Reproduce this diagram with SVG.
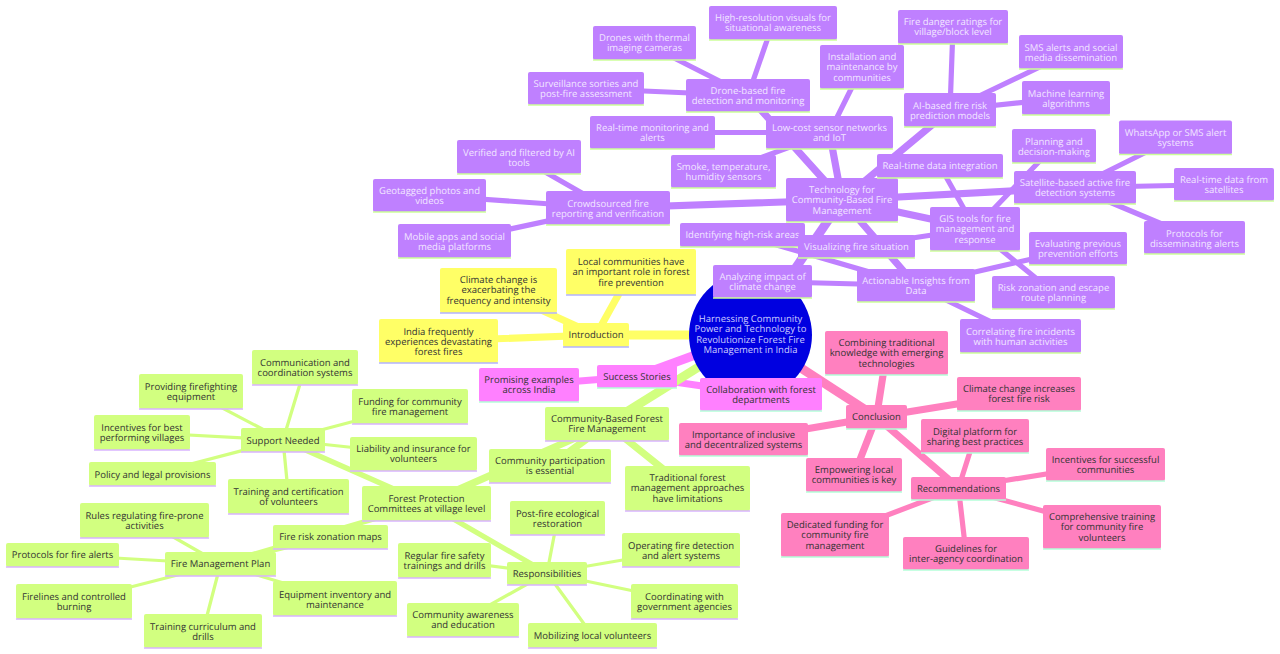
<svg xmlns="http://www.w3.org/2000/svg" width="1280" height="654" viewBox="0 0 1280 654">
<style>
text{font-family:"Open Sans","Noto Sans",sans-serif;font-size:9.5px;text-anchor:middle;text-rendering:geometricPrecision;transform:translateY(-0.5px)}
rect{stroke:none}
.sep{stroke-width:1.3;fill:none}
.e{fill:none;stroke-linecap:butt}
.d1{stroke-width:9.1}.d2{stroke-width:7.15}.d3{stroke-width:5.2}.d4{stroke-width:3.25}
.ep{stroke:#bf80ff}.ey{stroke:#ffff66}.em{stroke:#ff80ff}.er{stroke:#ff80bf}.eg{stroke:#d2ff80}
.p rect{fill:#bf80ff}.p text{fill:#f2e6ff}.p .sep{stroke:#ccff99}
.y rect{fill:#ffff66}.y text{fill:#333}.y .sep{stroke:#b3b3ff}
.m rect{fill:#ff80ff}.m text{fill:#333}.m .sep{stroke:#b3ffd9}
.r rect{fill:#ff80bf}.r text{fill:#333}.r .sep{stroke:#b3ffd9}
.g rect{fill:#d2ff80}.g text{fill:#333}.g .sep{stroke:#d9b3ff}
#root ellipse{fill:#0000e0}#root text{fill:#ccccff}
</style>
<g id="connectors">
<g class="e ep">
<path class="d1" d="M750 335L842 200"/>
<path class="d2" d="M842 200L748 95.5M842 200L829.5 132.5M842 200L950 110M842 200L608 208M842 200L1075 187.5M842 200L975 228.5M842 200L916 285.5"/>
<path class="d3" d="M748 95.5L773 23M748 95.5L644.5 43M748 95.5L586 88.5M829.5 132.5L862 67M829.5 132.5L652.5 132.5M829.5 132.5L723.5 171.5M950 110L953 27M950 110L1071 52M950 110L1066 98M608 208L519 157M608 208L429.5 195.5M608 208L454.5 241M1075 187.5L1175.5 137.5M1075 187.5L1224 184.5M1075 187.5L1194 237.5M975 228.5L940 166M975 228.5L1054 146M975 228.5L856.5 246.5M975 228.5L1053.5 292.5M916 285.5L742.5 235M916 285.5L762.5 281.5M916 285.5L1078 248.5M916 285.5L1020.5 336"/>
</g>
<g class="e ey">
<path class="d1" d="M750 335L596 335"/>
<path class="d2" d="M596 335L631 272M596 335L498.5 290.5M596 335L438.5 341"/>
</g>
<g class="e em">
<path class="d1" d="M750 335L636.5 376.5"/>
<path class="d2" d="M636.5 376.5L529 385M636.5 376.5L761 394.5"/>
</g>
<g class="e er">
<path class="d1" d="M750 335L876.5 417"/>
<path class="d2" d="M876.5 417L886.5 353M876.5 417L1019 394M876.5 417L743.5 439.5M876.5 417L854 475M876.5 417L958.5 488"/>
<path class="d3" d="M958.5 488L975 436M958.5 488L1105.5 464.5M958.5 488L1102 527M958.5 488L966 553.5M958.5 488L835 535"/>
</g>
<g class="e eg">
<path class="d1" d="M750 335L607 424"/>
<path class="d2" d="M607 424L550 466M607 424L687.5 488.5M607 424L426.5 503.5"/>
<path class="d3" d="M426.5 503.5L283 440M426.5 503.5L220.5 564M426.5 503.5L547 573"/>
<path class="d4" d="M283 440L305 367.5M283 440L191 391.5M283 440L142 432.5M283 440L152.5 474M283 440L288.5 496.5M283 440L410 406.5M283 440L413.5 454M220.5 564L330.5 537M220.5 564L144.5 520.5M220.5 564L62.5 555M220.5 564L74 601.5M220.5 564L203 631M220.5 564L335 598.5M547 573L557.5 518M547 573L444.5 560M547 573L681 550M547 573L684.5 601.5M547 573L592.5 635.5M547 573L463 620"/>
</g>
</g>
<g id="root"><ellipse cx="750.5" cy="335" rx="61.5" ry="63"/><text x="750.5" y="322.5">Harnessing Community<tspan x="750.5" dy="10.4">Power and Technology to</tspan><tspan x="750.5" dy="10.4">Revolutionize Forest Fire</tspan><tspan x="750.5" dy="10.4">Management in India</tspan></text></g>
<g id="n-high" class="p"><rect x="709" y="6" width="128" height="34" rx="2"/><path class="sep" d="M709 40h128"/><text x="773" y="21.5">High-resolution visuals for<tspan x="773" dy="10.4">situational awareness</tspan></text></g>
<g id="n-thermal" class="p"><rect x="593" y="26" width="103" height="34" rx="2"/><path class="sep" d="M593 60h103"/><text x="644.5" y="41.5">Drones with thermal<tspan x="644.5" dy="10.4">imaging cameras</tspan></text></g>
<g id="n-surv" class="p"><rect x="528" y="72" width="116" height="33" rx="2"/><path class="sep" d="M528 105h116"/><text x="586" y="87.5">Surveillance sorties and<tspan x="586" dy="10.4">post-fire assessment</tspan></text></g>
<g id="n-drone" class="p"><rect x="686" y="79" width="124" height="33" rx="2"/><path class="sep" d="M686 112h124"/><text x="748" y="94.5">Drone-based fire<tspan x="748" dy="10.4">detection and monitoring</tspan></text></g>
<g id="n-install" class="p"><rect x="820" y="45" width="84" height="44" rx="2"/><path class="sep" d="M820 89h84"/><text x="862" y="60.5">Installation and<tspan x="862" dy="10.4">maintenance by</tspan><tspan x="862" dy="10.4">communities</tspan></text></g>
<g id="n-rtm" class="p"><rect x="590" y="116" width="125" height="33" rx="2"/><path class="sep" d="M590 149h125"/><text x="652.5" y="131.5">Real-time monitoring and<tspan x="652.5" dy="10.4">alerts</tspan></text></g>
<g id="n-low" class="p"><rect x="766" y="116" width="127" height="33" rx="2"/><path class="sep" d="M766 149h127"/><text x="829.5" y="131.5">Low-cost sensor networks<tspan x="829.5" dy="10.4">and IoT</tspan></text></g>
<g id="n-smoke" class="p"><rect x="671" y="155" width="105" height="33" rx="2"/><path class="sep" d="M671 188h105"/><text x="723.5" y="170.5">Smoke, temperature,<tspan x="723.5" dy="10.4">humidity sensors</tspan></text></g>
<g id="n-danger" class="p"><rect x="898" y="10" width="110" height="34" rx="2"/><path class="sep" d="M898 44h110"/><text x="953" y="25.5">Fire danger ratings for<tspan x="953" dy="10.4">village/block level</tspan></text></g>
<g id="n-sms" class="p"><rect x="1019" y="35" width="104" height="34" rx="2"/><path class="sep" d="M1019 69h104"/><text x="1071" y="51">SMS alerts and social<tspan x="1071" dy="10.4">media dissemination</tspan></text></g>
<g id="n-ai" class="p"><rect x="904" y="93" width="92" height="34" rx="2"/><path class="sep" d="M904 127h92"/><text x="950" y="109">AI-based fire risk<tspan x="950" dy="10.4">prediction models</tspan></text></g>
<g id="n-ml" class="p"><rect x="1022" y="81" width="88" height="34" rx="2"/><path class="sep" d="M1022 115h88"/><text x="1066" y="97">Machine learning<tspan x="1066" dy="10.4">algorithms</tspan></text></g>
<g id="n-verified" class="p"><rect x="457" y="140" width="124" height="34" rx="2"/><path class="sep" d="M457 174h124"/><text x="519" y="156">Verified and filtered by AI<tspan x="519" dy="10.4">tools</tspan></text></g>
<g id="n-geo" class="p"><rect x="373" y="179" width="113" height="33" rx="2"/><path class="sep" d="M373 212h113"/><text x="429.5" y="194.5">Geotagged photos and<tspan x="429.5" dy="10.4">videos</tspan></text></g>
<g id="n-crowd" class="p"><rect x="546" y="191" width="124" height="34" rx="2"/><path class="sep" d="M546 225h124"/><text x="608" y="207">Crowdsourced fire<tspan x="608" dy="10.4">reporting and verification</tspan></text></g>
<g id="n-mobile" class="p"><rect x="398" y="224" width="113" height="34" rx="2"/><path class="sep" d="M398 258h113"/><text x="454.5" y="240">Mobile apps and social<tspan x="454.5" dy="10.4">media platforms</tspan></text></g>
<g id="n-tech" class="p"><rect x="786" y="178" width="112" height="44" rx="2"/><path class="sep" d="M786 222h112"/><text x="842" y="193.5">Technology for<tspan x="842" dy="10.4">Community-Based Fire</tspan><tspan x="842" dy="10.4">Management</tspan></text></g>
<g id="n-rti" class="p"><rect x="877" y="154" width="126" height="24" rx="2"/><path class="sep" d="M877 178h126"/><text x="940" y="169.5">Real-time data integration</text></g>
<g id="n-plan" class="p"><rect x="1012" y="129" width="84" height="34" rx="2"/><path class="sep" d="M1012 163h84"/><text x="1054" y="145">Planning and<tspan x="1054" dy="10.4">decision-making</tspan></text></g>
<g id="n-sat" class="p"><rect x="1014" y="171" width="122" height="33" rx="2"/><path class="sep" d="M1014 204h122"/><text x="1075" y="186.5">Satellite-based active fire<tspan x="1075" dy="10.4">detection systems</tspan></text></g>
<g id="n-whats" class="p"><rect x="1119" y="120.500" width="113" height="34" rx="2"/><path class="sep" d="M1119 154.500h113"/><text x="1175.5" y="136.5">WhatsApp or SMS alert<tspan x="1175.5" dy="10.4">systems</tspan></text></g>
<g id="n-rts" class="p"><rect x="1174" y="168" width="100" height="33" rx="2"/><path class="sep" d="M1174 201h100"/><text x="1224" y="183.5">Real-time data from<tspan x="1224" dy="10.4">satellites</tspan></text></g>
<g id="n-pd" class="p"><rect x="1144" y="221" width="101" height="33" rx="2"/><path class="sep" d="M1144 254h101"/><text x="1194.500" y="237">Protocols for<tspan x="1194.500" dy="10.4">disseminating alerts</tspan></text></g>
<g id="n-id" class="p"><rect x="680" y="223" width="125" height="24" rx="2"/><path class="sep" d="M680 247h125"/><text x="742.5" y="238.5">Identifying high-risk areas</text></g>
<g id="n-vis" class="p"><rect x="798" y="235" width="117" height="23" rx="2"/><path class="sep" d="M798 258h117"/><text x="856.5" y="250.5">Visualizing fire situation</text></g>
<g id="n-gis" class="p"><rect x="930" y="207" width="90" height="44" rx="2"/><path class="sep" d="M930 251h90"/><text x="975" y="222.5">GIS tools for fire<tspan x="975" dy="10.4">management and</tspan><tspan x="975" dy="10.4">response</tspan></text></g>
<g id="n-eval" class="p"><rect x="1029" y="232" width="98" height="33" rx="2"/><path class="sep" d="M1029 265h98"/><text x="1078" y="247.5">Evaluating previous<tspan x="1078" dy="10.4">prevention efforts</tspan></text></g>
<g id="n-ana" class="p"><rect x="713" y="265" width="99" height="33" rx="2"/><path class="sep" d="M713 298h99"/><text x="762.5" y="280.5">Analyzing impact of<tspan x="762.5" dy="10.4">climate change</tspan></text></g>
<g id="n-act" class="p"><rect x="857" y="269" width="118" height="33" rx="2"/><path class="sep" d="M857 302h118"/><text x="916" y="284.5">Actionable Insights from<tspan x="916" dy="10.4">Data</tspan></text></g>
<g id="n-risk" class="p"><rect x="992" y="276" width="123" height="33" rx="2"/><path class="sep" d="M992 309h123"/><text x="1053.5" y="291.5">Risk zonation and escape<tspan x="1053.5" dy="10.4">route planning</tspan></text></g>
<g id="n-corr" class="p"><rect x="960" y="319" width="121" height="34" rx="2"/><path class="sep" d="M960 353h121"/><text x="1020.5" y="335">Correlating fire incidents<tspan x="1020.5" dy="10.4">with human activities</tspan></text></g>
<g id="n-local" class="y"><rect x="566" y="249" width="130" height="46" rx="2"/><path class="sep" d="M566 295h130"/><text x="631" y="265.5">Local communities have<tspan x="631" dy="10.4">an important role in forest</tspan><tspan x="631" dy="10.4">fire prevention</tspan></text></g>
<g id="n-climate" class="y"><rect x="440" y="268" width="117" height="45" rx="2"/><path class="sep" d="M440 313h117"/><text x="498.5" y="283.5">Climate change is<tspan x="498.5" dy="10.4">exacerbating the</tspan><tspan x="498.5" dy="10.4">frequency and intensity</tspan></text></g>
<g id="n-india" class="y"><rect x="379" y="319" width="119" height="44" rx="2"/><path class="sep" d="M379 363h119"/><text x="438.5" y="335">India frequently<tspan x="438.5" dy="10.4">experiences devastating</tspan><tspan x="438.5" dy="10.4">forest fires</tspan></text></g>
<g id="n-intro" class="y"><rect x="563" y="323" width="66" height="24" rx="2"/><path class="sep" d="M563 347h66"/><text x="596" y="338.5">Introduction</text></g>
<g id="n-succ" class="m"><rect x="597" y="365" width="80" height="23" rx="2"/><path class="sep" d="M597 388h80"/><text x="637" y="380.5">Success Stories</text></g>
<g id="n-prom" class="m"><rect x="479" y="368" width="100" height="34" rx="2"/><path class="sep" d="M479 402h100"/><text x="529" y="383.5">Promising examples<tspan x="529" dy="10.4">across India</tspan></text></g>
<g id="n-collab" class="m"><rect x="700" y="378" width="122" height="33" rx="2"/><path class="sep" d="M700 411h122"/><text x="761" y="393">Collaboration with forest<tspan x="761" dy="10.4">departments</tspan></text></g>
<g id="n-combine" class="r"><rect x="825" y="331" width="123" height="44" rx="2"/><path class="sep" d="M825 375h123"/><text x="886.5" y="346.5">Combining traditional<tspan x="886.5" dy="10.4">knowledge with emerging</tspan><tspan x="886.5" dy="10.4">technologies</tspan></text></g>
<g id="n-concl" class="r"><rect x="846" y="405" width="61" height="24" rx="2"/><path class="sep" d="M846 429h61"/><text x="876.5" y="420.5">Conclusion</text></g>
<g id="n-clim2" class="r"><rect x="957" y="377" width="124" height="34" rx="2"/><path class="sep" d="M957 411h124"/><text x="1019" y="392.500">Climate change increases<tspan x="1019" dy="10.4">forest fire risk</tspan></text></g>
<g id="n-import" class="r"><rect x="679" y="423" width="129" height="33" rx="2"/><path class="sep" d="M679 456h129"/><text x="743.5" y="438.5">Importance of inclusive<tspan x="743.5" dy="10.4">and decentralized systems</tspan></text></g>
<g id="n-empower" class="r"><rect x="806" y="458" width="96" height="34" rx="2"/><path class="sep" d="M806 492h96"/><text x="854" y="473.5">Empowering local<tspan x="854" dy="10.4">communities is key</tspan></text></g>
<g id="n-digital" class="r"><rect x="921" y="419" width="108" height="34" rx="2"/><path class="sep" d="M921 453h108"/><text x="975" y="435">Digital platform for<tspan x="975" dy="10.4">sharing best practices</tspan></text></g>
<g id="n-rec" class="r"><rect x="911" y="477" width="95" height="23" rx="2"/><path class="sep" d="M911 500h95"/><text x="958.5" y="492.5">Recommendations</text></g>
<g id="n-inc" class="r"><rect x="1046" y="448" width="119" height="33" rx="2"/><path class="sep" d="M1046 481h119"/><text x="1105.5" y="463">Incentives for successful<tspan x="1105.5" dy="10.4">communities</tspan></text></g>
<g id="n-comp" class="r"><rect x="1043" y="505" width="118" height="44" rx="2"/><path class="sep" d="M1043 549h118"/><text x="1102" y="520.5">Comprehensive training<tspan x="1102" dy="10.4">for community fire</tspan><tspan x="1102" dy="10.4">volunteers</tspan></text></g>
<g id="n-guide" class="r"><rect x="903" y="537" width="126" height="33" rx="2"/><path class="sep" d="M903 570h126"/><text x="966" y="552.5">Guidelines for<tspan x="966" dy="10.4">inter-agency coordination</tspan></text></g>
<g id="n-fund" class="r"><rect x="781" y="513" width="108" height="44" rx="2"/><path class="sep" d="M781 557h108"/><text x="835" y="528.5">Dedicated funding for<tspan x="835" dy="10.4">community fire</tspan><tspan x="835" dy="10.4">management</tspan></text></g>
<g id="n-cb" class="g"><rect x="545" y="407" width="124" height="34" rx="2"/><path class="sep" d="M545 441h124"/><text x="607" y="422.5">Community-Based Forest<tspan x="607" dy="10.4">Fire Management</tspan></text></g>
<g id="n-part" class="g"><rect x="489" y="449" width="122" height="34" rx="2"/><path class="sep" d="M489 483h122"/><text x="550" y="464.5">Community participation<tspan x="550" dy="10.4">is essential</tspan></text></g>
<g id="n-trad" class="g"><rect x="625" y="466" width="125" height="45" rx="2"/><path class="sep" d="M625 511h125"/><text x="687.5" y="481.5">Traditional forest<tspan x="687.5" dy="10.4">management approaches</tspan><tspan x="687.5" dy="10.4">have limitations</tspan></text></g>
<g id="n-fpc" class="g"><rect x="362" y="486" width="129" height="35" rx="2"/><path class="sep" d="M362 521h129"/><text x="426.5" y="502.5">Forest Protection<tspan x="426.5" dy="10.4">Committees at village level</tspan></text></g>
<g id="n-support" class="g"><rect x="241" y="428" width="84" height="24" rx="2"/><path class="sep" d="M241 452h84"/><text x="283" y="444">Support Needed</text></g>
<g id="n-comm" class="g"><rect x="252" y="350" width="106" height="35" rx="2"/><path class="sep" d="M252 385h106"/><text x="305" y="366">Communication and<tspan x="305" dy="10.4">coordination systems</tspan></text></g>
<g id="n-equipf" class="g"><rect x="139" y="374" width="104" height="35" rx="2"/><path class="sep" d="M139 409h104"/><text x="191" y="390">Providing firefighting<tspan x="191" dy="10.4">equipment</tspan></text></g>
<g id="n-best" class="g"><rect x="94" y="415" width="96" height="35" rx="2"/><path class="sep" d="M94 450h96"/><text x="142" y="431">Incentives for best<tspan x="142" dy="10.4">performing villages</tspan></text></g>
<g id="n-policy" class="g"><rect x="89" y="462" width="127" height="24" rx="2"/><path class="sep" d="M89 486h127"/><text x="152.5" y="478">Policy and legal provisions</text></g>
<g id="n-cert" class="g"><rect x="228" y="479" width="121" height="35" rx="2"/><path class="sep" d="M228 514h121"/><text x="288.5" y="495">Training and certification<tspan x="288.5" dy="10.4">of volunteers</tspan></text></g>
<g id="n-funding" class="g"><rect x="352" y="389" width="116" height="35" rx="2"/><path class="sep" d="M352 424h116"/><text x="410" y="405">Funding for community<tspan x="410" dy="10.4">fire management</tspan></text></g>
<g id="n-liab" class="g"><rect x="350" y="437" width="127" height="34" rx="2"/><path class="sep" d="M350 471h127"/><text x="413.5" y="452.5">Liability and insurance for<tspan x="413.5" dy="10.4">volunteers</tspan></text></g>
<g id="n-post" class="g"><rect x="510" y="501" width="95" height="34" rx="2"/><path class="sep" d="M510 535h95"/><text x="557.5" y="517">Post-fire ecological<tspan x="557.5" dy="10.4">restoration</tspan></text></g>
<g id="n-reg" class="g"><rect x="398" y="543" width="93" height="35" rx="2"/><path class="sep" d="M398 578h93"/><text x="444.5" y="559">Regular fire safety<tspan x="444.5" dy="10.4">trainings and drills</tspan></text></g>
<g id="n-resp" class="g"><rect x="507" y="562" width="80" height="23" rx="2"/><path class="sep" d="M507 585h80"/><text x="547" y="577.5">Responsibilities</text></g>
<g id="n-oper" class="g"><rect x="622" y="533" width="118" height="34" rx="2"/><path class="sep" d="M622 567h118"/><text x="681" y="549">Operating fire detection<tspan x="681" dy="10.4">and alert systems</tspan></text></g>
<g id="n-coord" class="g"><rect x="631" y="584" width="107" height="35" rx="2"/><path class="sep" d="M631 619h107"/><text x="684.5" y="600.5">Coordinating with<tspan x="684.5" dy="10.4">government agencies</tspan></text></g>
<g id="n-mob" class="g"><rect x="528" y="623" width="129" height="25" rx="2"/><path class="sep" d="M528 648h129"/><text x="592.5" y="639.5">Mobilizing local volunteers</text></g>
<g id="n-aware" class="g"><rect x="407" y="603" width="112" height="34" rx="2"/><path class="sep" d="M407 637h112"/><text x="463" y="618.5">Community awareness<tspan x="463" dy="10.4">and education</tspan></text></g>
<g id="n-zone" class="g"><rect x="273" y="525" width="115" height="24" rx="2"/><path class="sep" d="M273 549h115"/><text x="330.5" y="540.5">Fire risk zonation maps</text></g>
<g id="n-rules" class="g"><rect x="80" y="503" width="129" height="35" rx="2"/><path class="sep" d="M80 538h129"/><text x="144.5" y="519.5">Rules regulating fire-prone<tspan x="144.5" dy="10.4">activities</tspan></text></g>
<g id="n-prot" class="g"><rect x="6" y="543" width="113" height="24" rx="2"/><path class="sep" d="M6 567h113"/><text x="62.5" y="558.5">Protocols for fire alerts</text></g>
<g id="n-fmp" class="g"><rect x="165" y="552" width="111" height="24" rx="2"/><path class="sep" d="M165 576h111"/><text x="220.5" y="567">Fire Management Plan</text></g>
<g id="n-firel" class="g"><rect x="16" y="584" width="116" height="35" rx="2"/><path class="sep" d="M16 619h116"/><text x="74" y="600">Firelines and controlled<tspan x="74" dy="10.4">burning</tspan></text></g>
<g id="n-curr" class="g"><rect x="144" y="614" width="118" height="34" rx="2"/><path class="sep" d="M144 648h118"/><text x="203" y="630">Training curriculum and<tspan x="203" dy="10.4">drills</tspan></text></g>
<g id="n-inv" class="g"><rect x="273" y="581" width="124" height="35" rx="2"/><path class="sep" d="M273 616h124"/><text x="335" y="598">Equipment inventory and<tspan x="335" dy="10.4">maintenance</tspan></text></g>
</svg>
